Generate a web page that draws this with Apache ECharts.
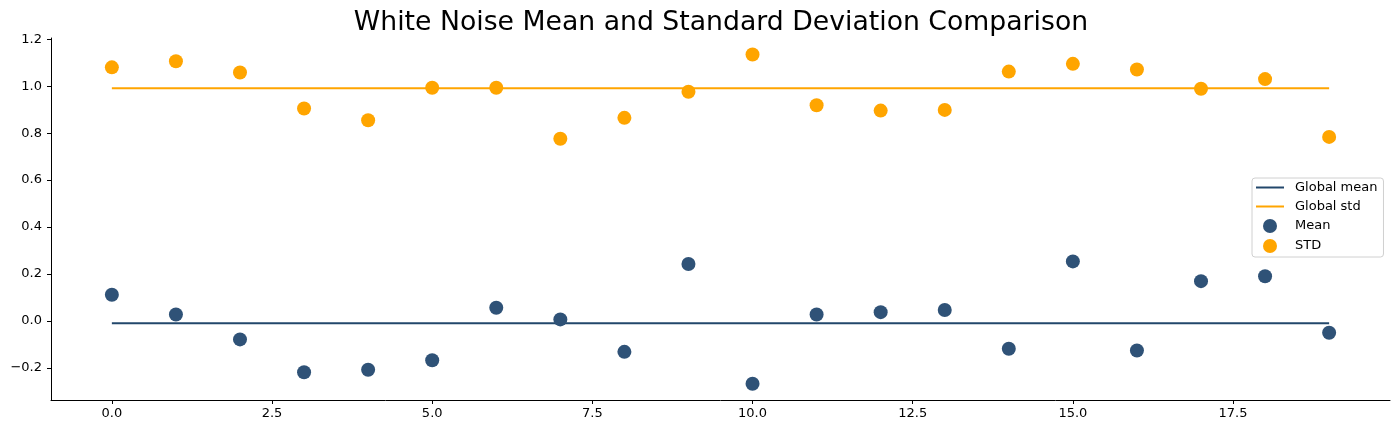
<!DOCTYPE html>
<html>
<head>
<meta charset="utf-8">
<script src="https://cdn.jsdelivr.net/npm/echarts@6/dist/echarts.min.js"></script>
<style>
html,body{margin:0;padding:0;background:#fff;}
#chart{width:1400px;height:432px;}
</style>
</head>
<body>
<div id="chart"></div>
<script>
const windows = [0,1,2,3,4,5,6,7,8,9,10,11,12,13,14,15,16,17,18,19];
const meanValues = [0.112,0.028,-0.078,-0.218,-0.207,-0.167,0.057,0.007,-0.131,0.243,-0.267,0.028,0.038,0.047,-0.118,0.254,-0.125,0.170,0.191,-0.050];
const stdValues = [1.080,1.106,1.058,0.905,0.855,0.993,0.993,0.776,0.865,0.976,1.135,0.919,0.896,0.899,1.062,1.095,1.071,0.989,1.030,0.784];
const globalMean = -0.009;
const globalStd = 0.991;
const xTicks = [0,2.5,5,7.5,10,12.5,15,17.5];
const yTicks = [-0.2,0,0.2,0.4,0.6,0.8,1.0,1.2];

const FONT = 'DejaVu Sans';
const MEAN_COLOR = '#2f5277';
const MEAN_LINE = '#22476b';
const STD_COLOR = '#ffa500';
const LINE_ICON = 'path://M0,0 H28 V2 H0 Z';
const fmt = v => (Math.abs(v) < 1e-9 ? 0 : v).toFixed(1).replace('-', '\u2212');

const chart = echarts.init(document.getElementById('chart'), null, {renderer:'canvas'});
const first = windows[0], last = windows[windows.length-1];
chart.setOption({
  animation: false,
  backgroundColor: '#fff',
  title: {
    text: 'White Noise Mean and Standard Deviation Comparison',
    left: 716, top: 5, textAlign: 'center',
    textStyle: {fontFamily: FONT, fontSize: 26.7, fontWeight: 'normal', color: '#000'}
  },
  grid: {left: 51, right: 10, top: 38, bottom: 32, containLabel: false},
  legend: {
    orient: 'vertical',
    left: 1252, top: 178,
    padding: [3, 6, 4, 4],
    itemGap: 6,
    itemWidth: 28, itemHeight: 14,
    symbolKeepAspect: true,
    backgroundColor: '#fff',
    borderColor: '#d0d0d0', borderWidth: 1, borderRadius: 3,
    textStyle: {fontFamily: FONT, fontSize: 13, color: '#000', padding: [0,0,0,6]},
    data: [
      {name: 'Global mean', icon: LINE_ICON, itemStyle: {color: MEAN_LINE}},
      {name: 'Global std', icon: LINE_ICON, itemStyle: {color: STD_COLOR}},
      {name: 'Mean', icon: 'circle'},
      {name: 'STD', icon: 'circle'}
    ]
  },
  xAxis: {
    type: 'value', min: -0.95, max: 19.95,
    axisLine: {show: true, onZero: false, lineStyle: {color: '#000', width: 1}},
    axisTick: {show: true, length: 4, lineStyle: {color: '#000'}, customValues: xTicks},
    axisLabel: {fontFamily: FONT, fontSize: 13, color: '#000', margin: 7, customValues: xTicks, formatter: fmt},
    splitLine: {show: false}
  },
  yAxis: {
    type: 'value', min: -0.336, max: 1.205,
    axisLine: {show: true, onZero: false, lineStyle: {color: '#000', width: 1}},
    axisTick: {show: true, length: 4, lineStyle: {color: '#000'}, customValues: yTicks},
    axisLabel: {fontFamily: FONT, fontSize: 13, color: '#000', margin: 9, customValues: yTicks, formatter: fmt},
    splitLine: {show: false}
  },
  series: [
    {name: 'Global mean', type: 'line', symbol: 'none', z: 2,
     data: [[first, globalMean],[last, globalMean]],
     lineStyle: {color: MEAN_LINE, width: 2}, itemStyle: {color: MEAN_LINE}},
    {name: 'Global std', type: 'line', symbol: 'none', z: 2,
     data: [[first, globalStd],[last, globalStd]],
     lineStyle: {color: STD_COLOR, width: 2}, itemStyle: {color: STD_COLOR}},
    {name: 'Mean', type: 'scatter', symbol: 'circle', symbolSize: 14, z: 3,
     data: windows.map((w,i) => [w, meanValues[i]]),
     itemStyle: {color: MEAN_COLOR, opacity: 1}},
    {name: 'STD', type: 'scatter', symbol: 'circle', symbolSize: 14, z: 3,
     data: windows.map((w,i) => [w, stdValues[i]]),
     itemStyle: {color: STD_COLOR, opacity: 1}}
  ]
});
</script>
</body>
</html>
